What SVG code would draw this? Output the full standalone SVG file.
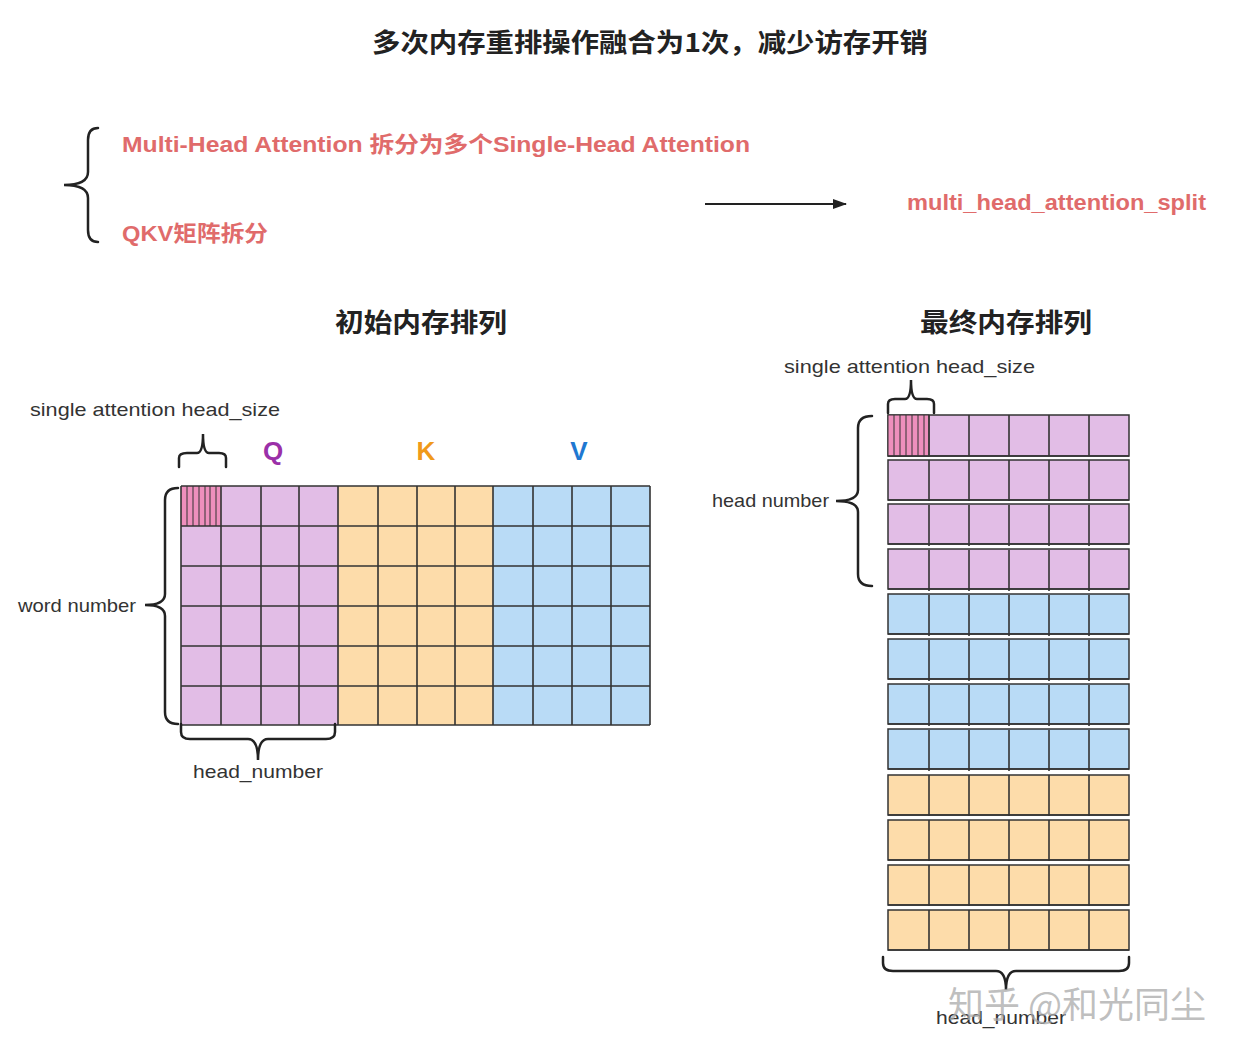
<svg xmlns="http://www.w3.org/2000/svg" width="1240" height="1056" viewBox="0 0 1240 1056">
<defs>
<style>
.t{font-family:"Noto Sans CJK SC","Liberation Sans",sans-serif;fill:#222}
.r{font-family:"Liberation Sans","Noto Sans CJK SC",sans-serif;fill:#e06b6b;font-size:22px;font-weight:600}
.l{font-family:"Liberation Sans",sans-serif;fill:#333;font-size:19px}
.br{fill:none;stroke:#222;stroke-width:2.5;stroke-linecap:round}
.p{fill:#e2bde6;stroke:#333;stroke-width:1.5}
.b{fill:#b9dbf6;stroke:#333;stroke-width:1.5}
.o{fill:#fddcaa;stroke:#333;stroke-width:1.5}
</style>
<marker id="ah" markerWidth="14" markerHeight="10" refX="13" refY="5" orient="auto" markerUnits="userSpaceOnUse"><path d="M0,0 L14,5 L0,10 z" fill="#222"/></marker>
</defs>
<rect width="1240" height="1056" fill="#fff"/>
<text class="t" x="372" y="52" font-size="26" font-weight="bold" textLength="556" lengthAdjust="spacingAndGlyphs">多次内存重排操作融合为1次，减少访存开销</text>
<g id="intro">
<path class="br" d="M98,128 Q88,128 88,140 L88,172 Q88,185 64,185 Q88,185 88,198 L88,230 Q88,242 98,242"/>
<text class="r" x="122" y="152" textLength="628" lengthAdjust="spacingAndGlyphs">Multi-Head Attention 拆分为多个Single-Head Attention</text>
<text class="r" x="122" y="241" textLength="146" lengthAdjust="spacingAndGlyphs">QKV矩阵拆分</text>
<text class="r" x="907" y="210" textLength="299" lengthAdjust="spacingAndGlyphs">multi_head_attention_split</text>
</g>
<g id="connectors"><line x1="705" y1="204" x2="846" y2="204" stroke="#222" stroke-width="2" marker-end="url(#ah)"/></g>
<g id="left">
<text class="t" x="335" y="332" font-size="26" font-weight="bold" textLength="172" lengthAdjust="spacingAndGlyphs">初始内存排列</text>
<text class="l" x="30" y="416" textLength="250" lengthAdjust="spacingAndGlyphs">single attention head_size</text>
<text x="273" y="460" font-family="Liberation Sans,sans-serif" font-size="26" font-weight="bold" fill="#9b30a8" text-anchor="middle">Q</text>
<text x="426" y="460" font-family="Liberation Sans,sans-serif" font-size="26" font-weight="bold" fill="#f09a1a" text-anchor="middle">K</text>
<text x="579" y="460" font-family="Liberation Sans,sans-serif" font-size="26" font-weight="bold" fill="#1f78d1" text-anchor="middle">V</text>
<rect x="181" y="486" width="157" height="239" fill="#e2bde6"/>
<rect x="338" y="486" width="155" height="239" fill="#fddcaa"/>
<rect x="493" y="486" width="157" height="239" fill="#b9dbf6"/>
<rect x="181" y="486" width="40" height="40" fill="#ee8fbd"/>
<path d="M187,486V526M193,486V526M199,486V526M205,486V526M210,486V526M216,486V526" stroke="#333" stroke-width="1"/>
<path d="M181,486H650M181,526H650M181,566H650M181,606H650M181,646H650M181,686H650M181,725H650M181,486V725M221,486V725M261,486V725M299,486V725M338,486V725M378,486V725M417,486V725M455,486V725M493,486V725M533,486V725M572,486V725M611,486V725M650,486V725" stroke="#333" stroke-width="1.6" fill="none"/>
<path class="br" d="M179,467 V458 Q179,453 187,453 L197,453 Q203,453 203,434 Q203,453 209,453 L219,453 Q226,453 226,458 V467"/>
<path class="br" d="M178,488 Q165,488 165,500 L165,594 Q165,605 145,605 Q165,605 165,616 L165,712 Q165,724 178,724"/>
<text class="l" x="18" y="612" textLength="118" lengthAdjust="spacingAndGlyphs">word number</text>
<path class="br" d="M181,724 V732 Q181,739 190,739 L248,739 Q258,739 258,760 Q258,739 268,739 L326,739 Q335,739 335,732 V724"/>
<text class="l" x="193" y="778" textLength="130" lengthAdjust="spacingAndGlyphs">head_number</text>
</g>
<g id="right">
<text class="t" x="920" y="332" font-size="26" font-weight="bold" textLength="172" lengthAdjust="spacingAndGlyphs">最终内存排列</text>
<text class="l" x="784" y="373" textLength="251" lengthAdjust="spacingAndGlyphs">single attention head_size</text>
<path class="br" d="M888,413 V404 Q888,399 895,399 L905,399 Q911,399 911,380 Q911,399 917,399 L927,399 Q934,399 934,404 V413"/>
<path class="br" d="M872,416 Q858,416 858,428 L858,490 Q858,501 836,501 Q858,501 858,512 L858,574 Q858,586 872,586"/>
<text class="l" x="712" y="507" textLength="117" lengthAdjust="spacingAndGlyphs">head number</text>
<g id="rows">
<g class="p"><rect x="888" y="415" width="241" height="41"/><rect x="888" y="460" width="241" height="40"/><rect x="888" y="504" width="241" height="40"/><rect x="888" y="549" width="241" height="40"/></g>
<g class="b"><rect x="888" y="594" width="241" height="40"/><rect x="888" y="639" width="241" height="40"/><rect x="888" y="684" width="241" height="40"/><rect x="888" y="729" width="241" height="40"/></g>
<g class="o"><rect x="888" y="775" width="241" height="40"/><rect x="888" y="820" width="241" height="40"/><rect x="888" y="865" width="241" height="40"/><rect x="888" y="910" width="241" height="40"/></g>
<rect x="888" y="415" width="41" height="41" fill="#ee8fbd" stroke="#333" stroke-width="1"/>
<path d="M894,415V456M900,415V456M906,415V456M912,415V456M918,415V456M924,415V456" stroke="#333" stroke-width="1"/>
<path d="M929,415V950M969,415V950M1009,415V950M1049,415V950M1089,415V950" stroke="#333" stroke-width="1.6" stroke-dasharray="41 4"/>
<path d="M888,456H1129M888,500H1129M888,544H1129M888,589H1129M888,634H1129M888,679H1129M888,724H1129M888,769H1129M888,815H1129M888,860H1129M888,905H1129M888,950H1129" stroke="#333" stroke-width="1.6"/>
</g>
<path class="br" d="M883,957 V963 Q883,971 893,971 L996,971 Q1006,971 1006,990 Q1006,971 1016,971 L1119,971 Q1129,971 1129,963 V957"/>
<text class="l" x="936" y="1024" textLength="130" lengthAdjust="spacingAndGlyphs">head_number</text>
<text x="948" y="1018" font-family="Noto Sans CJK SC,sans-serif" font-size="36" fill="#aaa" fill-opacity="0.75">知乎 @和光同尘</text>
</g>
</svg>
